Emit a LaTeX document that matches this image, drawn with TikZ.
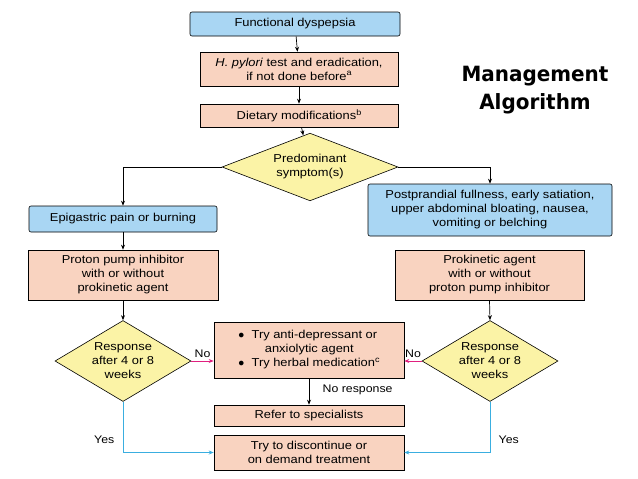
\documentclass[tikz,border=0pt]{standalone}
\usepackage{fontspec}
\setmainfont{Liberation Sans}[FakeStretch=1.12]
\newfontfamily\ttlfont{DejaVu Sans}[FakeStretch=0.95]
\usetikzlibrary{shapes.geometric,arrows.meta}
\definecolor{bl}{HTML}{A9D6F3}
\definecolor{pe}{HTML}{F9D3C0}
\definecolor{ye}{HTML}{FBF3A6}
\definecolor{mg}{HTML}{E0207F}
\definecolor{cy}{HTML}{3AAEE0}
\begin{document}
\begin{tikzpicture}[x=1pt,y=-1pt,
 box/.style={draw,line width=0.6pt,align=center,font=\fontsize{11.5}{14}\selectfont,inner sep=0pt},
 bbox/.style={box,fill=bl,rounded corners=2pt},
 pbox/.style={box,fill=pe},
 dia/.style={draw,line width=0.6pt,fill=ye,diamond,aspect=1.7,inner sep=0pt,align=center,font=\fontsize{11.5}{14}\selectfont},
 ar/.style={-{Stealth[length=5pt,width=4pt]},line width=0.7pt},
 lab/.style={font=\fontsize{11}{13}\selectfont}]
\useasboundingbox (0,0) rectangle (638,479);
\node[bbox,minimum width=210,minimum height=24] (fd) at (295,24) {Functional dyspepsia};
\node[pbox,minimum width=198,minimum height=34] (hp) at (299,69) {\textit{H. pylori} test and eradication,\\ if not done before$^{\mathrm{a}}$};
\node[pbox,minimum width=198,minimum height=23] (dm) at (299,115.5) {Dietary modifications$^{\mathrm{b}}$};
\node[dia,minimum width=176,minimum height=46] (ps) at (310,167) {Predominant\\symptom(s)};
\node[bbox,minimum width=188,minimum height=26] (ep) at (123,219) {Epigastric pain or burning};
\node[pbox,minimum width=190,minimum height=50] (ppi) at (123,275) {Proton pump inhibitor\\with or without\\prokinetic agent};
\node[bbox,minimum width=244,minimum height=52] (pp) at (490,210) {Postprandial fullness, early satiation,\\upper abdominal bloating, nausea,\\vomiting or belching};
\node[pbox,minimum width=189,minimum height=50] (pk) at (489.5,275) {Prokinetic agent\\with or without\\proton pump inhibitor};
\node[dia,minimum width=136,minimum height=81] (ld) at (123,361) {Response\\after 4 or 8\\weeks};
\node[dia,minimum width=136,minimum height=81] (rd) at (490,361) {Response\\after 4 or 8\\weeks};
\node[pbox,minimum width=190,minimum height=56,align=left] (mid) at (309,350) {$\bullet$\ \ Try anti-depressant or\\\hspace{2.3em}anxiolytic agent\\$\bullet$\ \ Try herbal medication$^{\mathrm{c}}$};
\node[pbox,minimum width=190,minimum height=21] (ref) at (309,415.5) {Refer to specialists};
\node[pbox,minimum width=190,minimum height=35] (td) at (309,452.5) {Try to discontinue or\\on demand treatment};
\node[font=\ttlfont\bfseries\fontsize{21}{28}\selectfont,align=center] (ttl) at (535,90) {Management\\Algorithm};
\draw[ar] (fd) -- (hp);
\draw[ar] (hp) -- (dm);
\draw[ar] (dm) -- (ps);
\draw[ar] (ps.west) -| (ep.north);
\draw[ar] (ps.east) -| (pp.north);
\draw[ar] (ep) -- (ppi);
\draw[ar] (ppi.south) -- (ld.north);
\draw[ar] (pk.south) -- (rd.north);
\draw[ar,mg] (ld.east) -- node[lab,above,black,pos=0.5] {No} (ld.east -| mid.west);
\draw[ar,mg] (rd.west) -- node[lab,above,black,pos=0.5] {No} (rd.west -| mid.east);
\draw[ar] (mid) -- node[lab,right,pos=0.45,xshift=10pt] {No response} (ref);
\draw[ar,cy] (ld.south) -- node[lab,left,black,pos=0.75,xshift=-5pt] {Yes} (ld.south |- td.west) -- (td.west);
\draw[ar,cy] (rd.south) -- node[lab,right,black,pos=0.75,xshift=5pt] {Yes} (rd.south |- td.east) -- (td.east);
\end{tikzpicture}
\end{document}
